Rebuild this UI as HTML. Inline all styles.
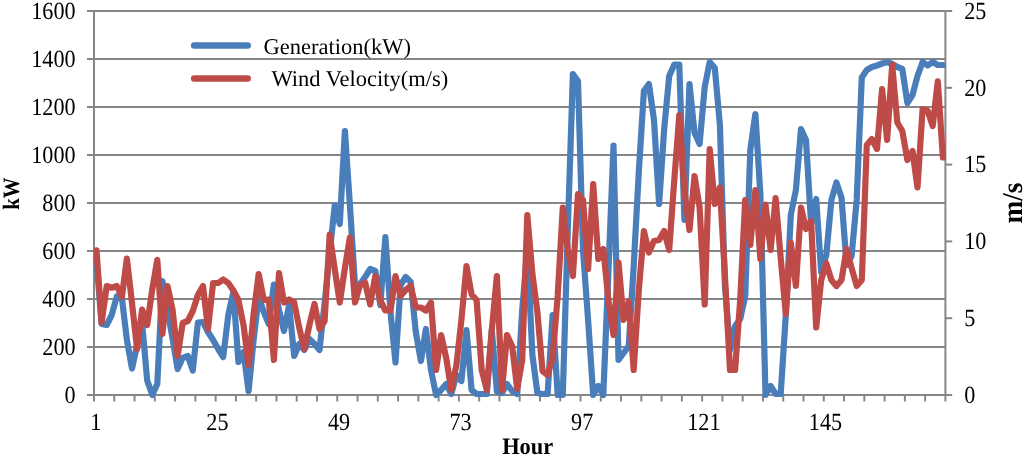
<!DOCTYPE html>
<html><head><meta charset="utf-8"><title>Generation and Wind Velocity</title>
<style>html,body{margin:0;padding:0;background:#fff}body{width:1024px;height:460px;overflow:hidden}.t{font-family:"Liberation Serif",serif;fill:#000;text-rendering:geometricPrecision}</style></head>
<body>
<svg width="1024" height="460" viewBox="0 0 1024 460" style="display:block">
<rect width="1024" height="460" fill="#fff"/>
<line x1="87.0" y1="395.0" x2="945.4" y2="395.0" stroke="#868686" stroke-width="2"/>
<line x1="87.0" y1="347.0" x2="945.4" y2="347.0" stroke="#868686" stroke-width="2"/>
<line x1="87.0" y1="299.0" x2="945.4" y2="299.0" stroke="#868686" stroke-width="2"/>
<line x1="87.0" y1="251.0" x2="945.4" y2="251.0" stroke="#868686" stroke-width="2"/>
<line x1="87.0" y1="203.0" x2="945.4" y2="203.0" stroke="#868686" stroke-width="2"/>
<line x1="87.0" y1="155.0" x2="945.4" y2="155.0" stroke="#868686" stroke-width="2"/>
<line x1="87.0" y1="107.0" x2="945.4" y2="107.0" stroke="#868686" stroke-width="2"/>
<line x1="87.0" y1="59.0" x2="945.4" y2="59.0" stroke="#868686" stroke-width="2"/>
<line x1="87.0" y1="11.0" x2="945.4" y2="11.0" stroke="#868686" stroke-width="2"/>
<line x1="945.4" y1="395.0" x2="952.2" y2="395.0" stroke="#868686" stroke-width="2"/>
<line x1="945.4" y1="318.2" x2="952.2" y2="318.2" stroke="#868686" stroke-width="2"/>
<line x1="945.4" y1="241.4" x2="952.2" y2="241.4" stroke="#868686" stroke-width="2"/>
<line x1="945.4" y1="164.6" x2="952.2" y2="164.6" stroke="#868686" stroke-width="2"/>
<line x1="945.4" y1="87.8" x2="952.2" y2="87.8" stroke="#868686" stroke-width="2"/>
<line x1="945.4" y1="11.0" x2="952.2" y2="11.0" stroke="#868686" stroke-width="2"/>
<line x1="88.0" y1="395.0" x2="951.4" y2="395.0" stroke="#868686" stroke-width="2.2"/>
<line x1="94.0" y1="11.0" x2="94.0" y2="395.0" stroke="#868686" stroke-width="2"/>
<line x1="945.4" y1="11.0" x2="945.4" y2="395.0" stroke="#868686" stroke-width="2"/>
<line x1="94.00" y1="395.0" x2="94.00" y2="401.5" stroke="#868686" stroke-width="2"/>
<line x1="114.27" y1="395.0" x2="114.27" y2="401.5" stroke="#868686" stroke-width="2"/>
<line x1="134.54" y1="395.0" x2="134.54" y2="401.5" stroke="#868686" stroke-width="2"/>
<line x1="154.81" y1="395.0" x2="154.81" y2="401.5" stroke="#868686" stroke-width="2"/>
<line x1="175.09" y1="395.0" x2="175.09" y2="401.5" stroke="#868686" stroke-width="2"/>
<line x1="195.36" y1="395.0" x2="195.36" y2="401.5" stroke="#868686" stroke-width="2"/>
<line x1="215.63" y1="395.0" x2="215.63" y2="401.5" stroke="#868686" stroke-width="2"/>
<line x1="235.90" y1="395.0" x2="235.90" y2="401.5" stroke="#868686" stroke-width="2"/>
<line x1="256.17" y1="395.0" x2="256.17" y2="401.5" stroke="#868686" stroke-width="2"/>
<line x1="276.44" y1="395.0" x2="276.44" y2="401.5" stroke="#868686" stroke-width="2"/>
<line x1="296.71" y1="395.0" x2="296.71" y2="401.5" stroke="#868686" stroke-width="2"/>
<line x1="316.99" y1="395.0" x2="316.99" y2="401.5" stroke="#868686" stroke-width="2"/>
<line x1="337.26" y1="395.0" x2="337.26" y2="401.5" stroke="#868686" stroke-width="2"/>
<line x1="357.53" y1="395.0" x2="357.53" y2="401.5" stroke="#868686" stroke-width="2"/>
<line x1="377.80" y1="395.0" x2="377.80" y2="401.5" stroke="#868686" stroke-width="2"/>
<line x1="398.07" y1="395.0" x2="398.07" y2="401.5" stroke="#868686" stroke-width="2"/>
<line x1="418.34" y1="395.0" x2="418.34" y2="401.5" stroke="#868686" stroke-width="2"/>
<line x1="438.61" y1="395.0" x2="438.61" y2="401.5" stroke="#868686" stroke-width="2"/>
<line x1="458.89" y1="395.0" x2="458.89" y2="401.5" stroke="#868686" stroke-width="2"/>
<line x1="479.16" y1="395.0" x2="479.16" y2="401.5" stroke="#868686" stroke-width="2"/>
<line x1="499.43" y1="395.0" x2="499.43" y2="401.5" stroke="#868686" stroke-width="2"/>
<line x1="519.70" y1="395.0" x2="519.70" y2="401.5" stroke="#868686" stroke-width="2"/>
<line x1="539.97" y1="395.0" x2="539.97" y2="401.5" stroke="#868686" stroke-width="2"/>
<line x1="560.24" y1="395.0" x2="560.24" y2="401.5" stroke="#868686" stroke-width="2"/>
<line x1="580.51" y1="395.0" x2="580.51" y2="401.5" stroke="#868686" stroke-width="2"/>
<line x1="600.79" y1="395.0" x2="600.79" y2="401.5" stroke="#868686" stroke-width="2"/>
<line x1="621.06" y1="395.0" x2="621.06" y2="401.5" stroke="#868686" stroke-width="2"/>
<line x1="641.33" y1="395.0" x2="641.33" y2="401.5" stroke="#868686" stroke-width="2"/>
<line x1="661.60" y1="395.0" x2="661.60" y2="401.5" stroke="#868686" stroke-width="2"/>
<line x1="681.87" y1="395.0" x2="681.87" y2="401.5" stroke="#868686" stroke-width="2"/>
<line x1="702.14" y1="395.0" x2="702.14" y2="401.5" stroke="#868686" stroke-width="2"/>
<line x1="722.41" y1="395.0" x2="722.41" y2="401.5" stroke="#868686" stroke-width="2"/>
<line x1="742.69" y1="395.0" x2="742.69" y2="401.5" stroke="#868686" stroke-width="2"/>
<line x1="762.96" y1="395.0" x2="762.96" y2="401.5" stroke="#868686" stroke-width="2"/>
<line x1="783.23" y1="395.0" x2="783.23" y2="401.5" stroke="#868686" stroke-width="2"/>
<line x1="803.50" y1="395.0" x2="803.50" y2="401.5" stroke="#868686" stroke-width="2"/>
<line x1="823.77" y1="395.0" x2="823.77" y2="401.5" stroke="#868686" stroke-width="2"/>
<line x1="844.04" y1="395.0" x2="844.04" y2="401.5" stroke="#868686" stroke-width="2"/>
<line x1="864.31" y1="395.0" x2="864.31" y2="401.5" stroke="#868686" stroke-width="2"/>
<line x1="884.59" y1="395.0" x2="884.59" y2="401.5" stroke="#868686" stroke-width="2"/>
<line x1="904.86" y1="395.0" x2="904.86" y2="401.5" stroke="#868686" stroke-width="2"/>
<line x1="925.13" y1="395.0" x2="925.13" y2="401.5" stroke="#868686" stroke-width="2"/>
<line x1="945.40" y1="395.0" x2="945.40" y2="401.5" stroke="#868686" stroke-width="2"/>
<path d="M96.5,260.0 L101.6,324.0 L106.7,325.0 L111.7,315.0 L116.8,296.5 L121.9,298.0 L126.9,340.0 L132.0,368.5 L137.1,345.0 L142.1,323.0 L147.2,380.5 L152.3,395.0 L157.3,384.0 L162.4,281.0 L167.5,310.0 L172.6,339.0 L177.6,369.0 L182.7,358.0 L187.8,356.0 L192.8,370.5 L197.9,322.5 L203.0,322.0 L208.0,332.0 L213.1,340.0 L218.2,349.0 L223.2,357.0 L228.3,315.0 L233.4,292.0 L238.4,362.0 L243.5,352.0 L248.6,391.0 L253.6,340.0 L258.7,297.0 L263.8,312.0 L268.8,324.0 L273.9,284.5 L279.0,310.0 L284.0,331.0 L289.1,305.0 L294.2,356.0 L299.2,344.0 L304.3,350.0 L309.4,339.0 L314.5,344.0 L319.5,350.0 L324.6,303.0 L329.7,253.0 L334.7,205.5 L339.8,224.0 L344.9,131.0 L349.9,205.0 L355.0,285.0 L360.1,284.0 L365.1,277.0 L370.2,269.0 L375.3,271.0 L380.3,305.0 L385.4,237.0 L390.5,312.0 L395.5,362.5 L400.6,285.0 L405.7,277.0 L410.7,282.0 L415.8,332.0 L420.9,361.0 L425.9,329.0 L431.0,370.0 L436.1,395.0 L441.1,390.0 L446.2,384.0 L451.3,394.0 L456.4,375.0 L461.4,381.0 L466.5,330.0 L471.6,390.0 L476.6,394.0 L481.7,394.0 L486.8,394.0 L491.8,330.0 L496.9,391.5 L502.0,393.0 L507.0,384.0 L512.1,391.0 L517.2,394.0 L522.2,310.0 L527.3,250.0 L532.4,355.0 L537.4,393.0 L542.5,394.0 L547.6,394.0 L552.6,315.0 L557.7,395.0 L562.8,395.0 L567.8,230.0 L572.9,74.0 L578.0,81.0 L583.0,250.0 L588.1,320.0 L593.2,395.0 L598.3,386.0 L603.3,395.0 L608.4,272.0 L613.5,145.5 L618.5,360.0 L623.6,353.0 L628.7,346.0 L633.7,266.0 L638.8,172.0 L643.9,91.0 L648.9,84.0 L654.0,120.0 L659.1,204.0 L664.1,130.0 L669.2,76.0 L674.3,64.5 L679.3,64.5 L684.4,220.0 L689.5,84.0 L694.5,132.5 L699.6,144.0 L704.7,87.0 L709.7,62.0 L714.8,68.0 L719.9,125.0 L724.9,285.0 L730.0,350.0 L735.1,326.0 L740.2,319.0 L745.2,296.0 L750.3,150.0 L755.4,114.0 L760.4,195.0 L765.5,395.0 L770.6,386.0 L775.6,394.0 L780.7,394.0 L785.8,315.0 L790.8,215.0 L795.9,190.0 L801.0,129.0 L806.0,140.0 L811.1,224.0 L816.2,199.0 L821.2,272.0 L826.3,255.0 L831.4,200.0 L836.4,182.5 L841.5,197.5 L846.6,265.0 L851.6,256.0 L856.7,200.0 L861.8,77.5 L866.8,70.0 L871.9,67.0 L877.0,65.5 L882.1,63.5 L887.1,62.0 L892.2,64.0 L897.3,67.0 L902.3,69.0 L907.4,103.0 L912.5,95.0 L917.5,76.0 L922.6,62.0 L927.7,65.5 L932.7,62.0 L937.8,65.0 L942.9,65.0" fill="none" stroke="#4a7ebb" stroke-width="6.2" stroke-linejoin="round" stroke-linecap="round"/>
<path d="M96.5,250.3 L101.6,322.5 L106.7,286.0 L111.7,287.7 L116.8,286.0 L121.9,297.0 L126.9,258.5 L132.0,303.0 L137.1,349.0 L142.1,309.5 L147.2,325.0 L152.3,289.0 L157.3,259.8 L162.4,334.0 L167.5,286.0 L172.6,310.0 L177.6,356.0 L182.7,323.0 L187.8,321.0 L192.8,311.0 L197.9,295.0 L203.0,286.0 L208.0,329.0 L213.1,283.0 L218.2,283.0 L223.2,279.5 L228.3,283.0 L233.4,290.5 L238.4,300.0 L243.5,325.0 L248.6,365.0 L253.6,314.0 L258.7,274.0 L263.8,300.0 L268.8,299.5 L273.9,360.0 L279.0,273.0 L284.0,302.5 L289.1,299.5 L294.2,302.5 L299.2,327.5 L304.3,349.0 L309.4,325.0 L314.5,304.0 L319.5,329.0 L324.6,321.0 L329.7,234.5 L334.7,269.0 L339.8,302.5 L344.9,268.0 L349.9,237.5 L355.0,302.5 L360.1,285.0 L365.1,282.5 L370.2,304.5 L375.3,276.0 L380.3,300.5 L385.4,310.5 L390.5,310.5 L395.5,276.0 L400.6,296.0 L405.7,290.0 L410.7,286.0 L415.8,307.5 L420.9,307.5 L425.9,310.5 L431.0,302.5 L436.1,370.0 L441.1,335.0 L446.2,358.0 L451.3,390.0 L456.4,365.0 L461.4,320.0 L466.5,266.0 L471.6,294.5 L476.6,300.0 L481.7,370.0 L486.8,390.0 L491.8,330.0 L496.9,276.0 L502.0,390.0 L507.0,335.0 L512.1,346.0 L517.2,389.0 L522.2,360.0 L527.3,215.0 L532.4,274.0 L537.4,312.0 L542.5,371.0 L547.6,375.0 L552.6,358.0 L557.7,295.5 L562.8,207.5 L567.8,250.0 L572.9,276.0 L578.0,194.0 L583.0,200.0 L588.1,269.0 L593.2,184.0 L598.3,259.0 L603.3,249.0 L608.4,300.0 L613.5,335.0 L618.5,262.5 L623.6,320.0 L628.7,301.5 L633.7,370.0 L638.8,290.0 L643.9,231.0 L648.9,252.5 L654.0,241.0 L659.1,240.0 L664.1,231.0 L669.2,250.0 L674.3,180.0 L679.3,115.0 L684.4,190.0 L689.5,230.0 L694.5,176.0 L699.6,207.0 L704.7,304.5 L709.7,149.0 L714.8,204.0 L719.9,187.5 L724.9,275.0 L730.0,370.0 L735.1,370.0 L740.2,300.0 L745.2,200.0 L750.3,245.0 L755.4,190.0 L760.4,259.0 L765.5,204.5 L770.6,250.0 L775.6,198.0 L780.7,258.0 L785.8,314.0 L790.8,242.5 L795.9,286.0 L801.0,207.5 L806.0,229.0 L811.1,221.0 L816.2,327.5 L821.2,280.0 L826.3,263.3 L831.4,280.0 L836.4,286.0 L841.5,280.0 L846.6,249.0 L851.6,268.0 L856.7,286.0 L861.8,280.0 L866.8,145.0 L871.9,139.0 L877.0,149.0 L882.1,89.0 L887.1,140.0 L892.2,64.7 L897.3,122.5 L902.3,131.0 L907.4,160.0 L912.5,151.0 L917.5,187.5 L922.6,109.0 L927.7,111.0 L932.7,126.0 L937.8,81.3 L942.9,157.5" fill="none" stroke="#be4b48" stroke-width="6.2" stroke-linejoin="round" stroke-linecap="round"/>
<line x1="194.2" y1="45.5" x2="247.7" y2="45.5" stroke="#4a7ebb" stroke-width="6.6" stroke-linecap="round"/>
<line x1="194.2" y1="78.5" x2="247.7" y2="78.5" stroke="#be4b48" stroke-width="6.6" stroke-linecap="round"/>
<text transform="translate(263.5,53.5)" font-size="22.5" text-anchor="start" class="t">Generation(kW)</text>
<text transform="translate(271.5,86.3)" font-size="22.5" text-anchor="start" class="t">Wind Velocity(m/s)</text>
<text transform="translate(75.6,402.9) scale(1,1.11)" font-size="22.2" text-anchor="end" class="t">0</text>
<text transform="translate(75.6,354.9) scale(1,1.11)" font-size="22.2" text-anchor="end" class="t">200</text>
<text transform="translate(75.6,306.9) scale(1,1.11)" font-size="22.2" text-anchor="end" class="t">400</text>
<text transform="translate(75.6,258.9) scale(1,1.11)" font-size="22.2" text-anchor="end" class="t">600</text>
<text transform="translate(75.6,210.9) scale(1,1.11)" font-size="22.2" text-anchor="end" class="t">800</text>
<text transform="translate(75.6,162.9) scale(1,1.11)" font-size="22.2" text-anchor="end" class="t">1000</text>
<text transform="translate(75.6,114.9) scale(1,1.11)" font-size="22.2" text-anchor="end" class="t">1200</text>
<text transform="translate(75.6,66.9) scale(1,1.11)" font-size="22.2" text-anchor="end" class="t">1400</text>
<text transform="translate(75.6,18.9) scale(1,1.11)" font-size="22.2" text-anchor="end" class="t">1600</text>
<text transform="translate(964.2,402.8) scale(1,1.11)" font-size="22.2" text-anchor="start" class="t">0</text>
<text transform="translate(964.2,326.0) scale(1,1.11)" font-size="22.2" text-anchor="start" class="t">5</text>
<text transform="translate(964.2,249.2) scale(1,1.11)" font-size="22.2" text-anchor="start" class="t">10</text>
<text transform="translate(964.2,172.4) scale(1,1.11)" font-size="22.2" text-anchor="start" class="t">15</text>
<text transform="translate(964.2,95.6) scale(1,1.11)" font-size="22.2" text-anchor="start" class="t">20</text>
<text transform="translate(964.2,18.8) scale(1,1.11)" font-size="22.2" text-anchor="start" class="t">25</text>
<text transform="translate(95.7,430.2) scale(1,1.11)" font-size="22.2" text-anchor="middle" class="t">1</text>
<text transform="translate(217.4,430.2) scale(1,1.11)" font-size="22.2" text-anchor="middle" class="t">25</text>
<text transform="translate(339.0,430.2) scale(1,1.11)" font-size="22.2" text-anchor="middle" class="t">49</text>
<text transform="translate(460.6,430.2) scale(1,1.11)" font-size="22.2" text-anchor="middle" class="t">73</text>
<text transform="translate(582.2,430.2) scale(1,1.11)" font-size="22.2" text-anchor="middle" class="t">97</text>
<text transform="translate(703.9,430.2) scale(1,1.11)" font-size="22.2" text-anchor="middle" class="t">121</text>
<text transform="translate(825.5,430.2) scale(1,1.11)" font-size="22.2" text-anchor="middle" class="t">145</text>
<text transform="translate(527.7,453.6) scale(1,1.05)" font-size="22.4" text-anchor="middle" font-weight="bold" class="t">Hour</text>
<text transform="translate(18.7,193.6) rotate(-90) scale(1,1.13)" font-size="20.8" text-anchor="middle" font-weight="bold" class="t">kW</text>
<text transform="translate(1021.8,203) rotate(-90) scale(1,1.05)" font-size="27.3" text-anchor="middle" font-weight="bold" class="t">m/s</text>
</svg>
</body></html>
